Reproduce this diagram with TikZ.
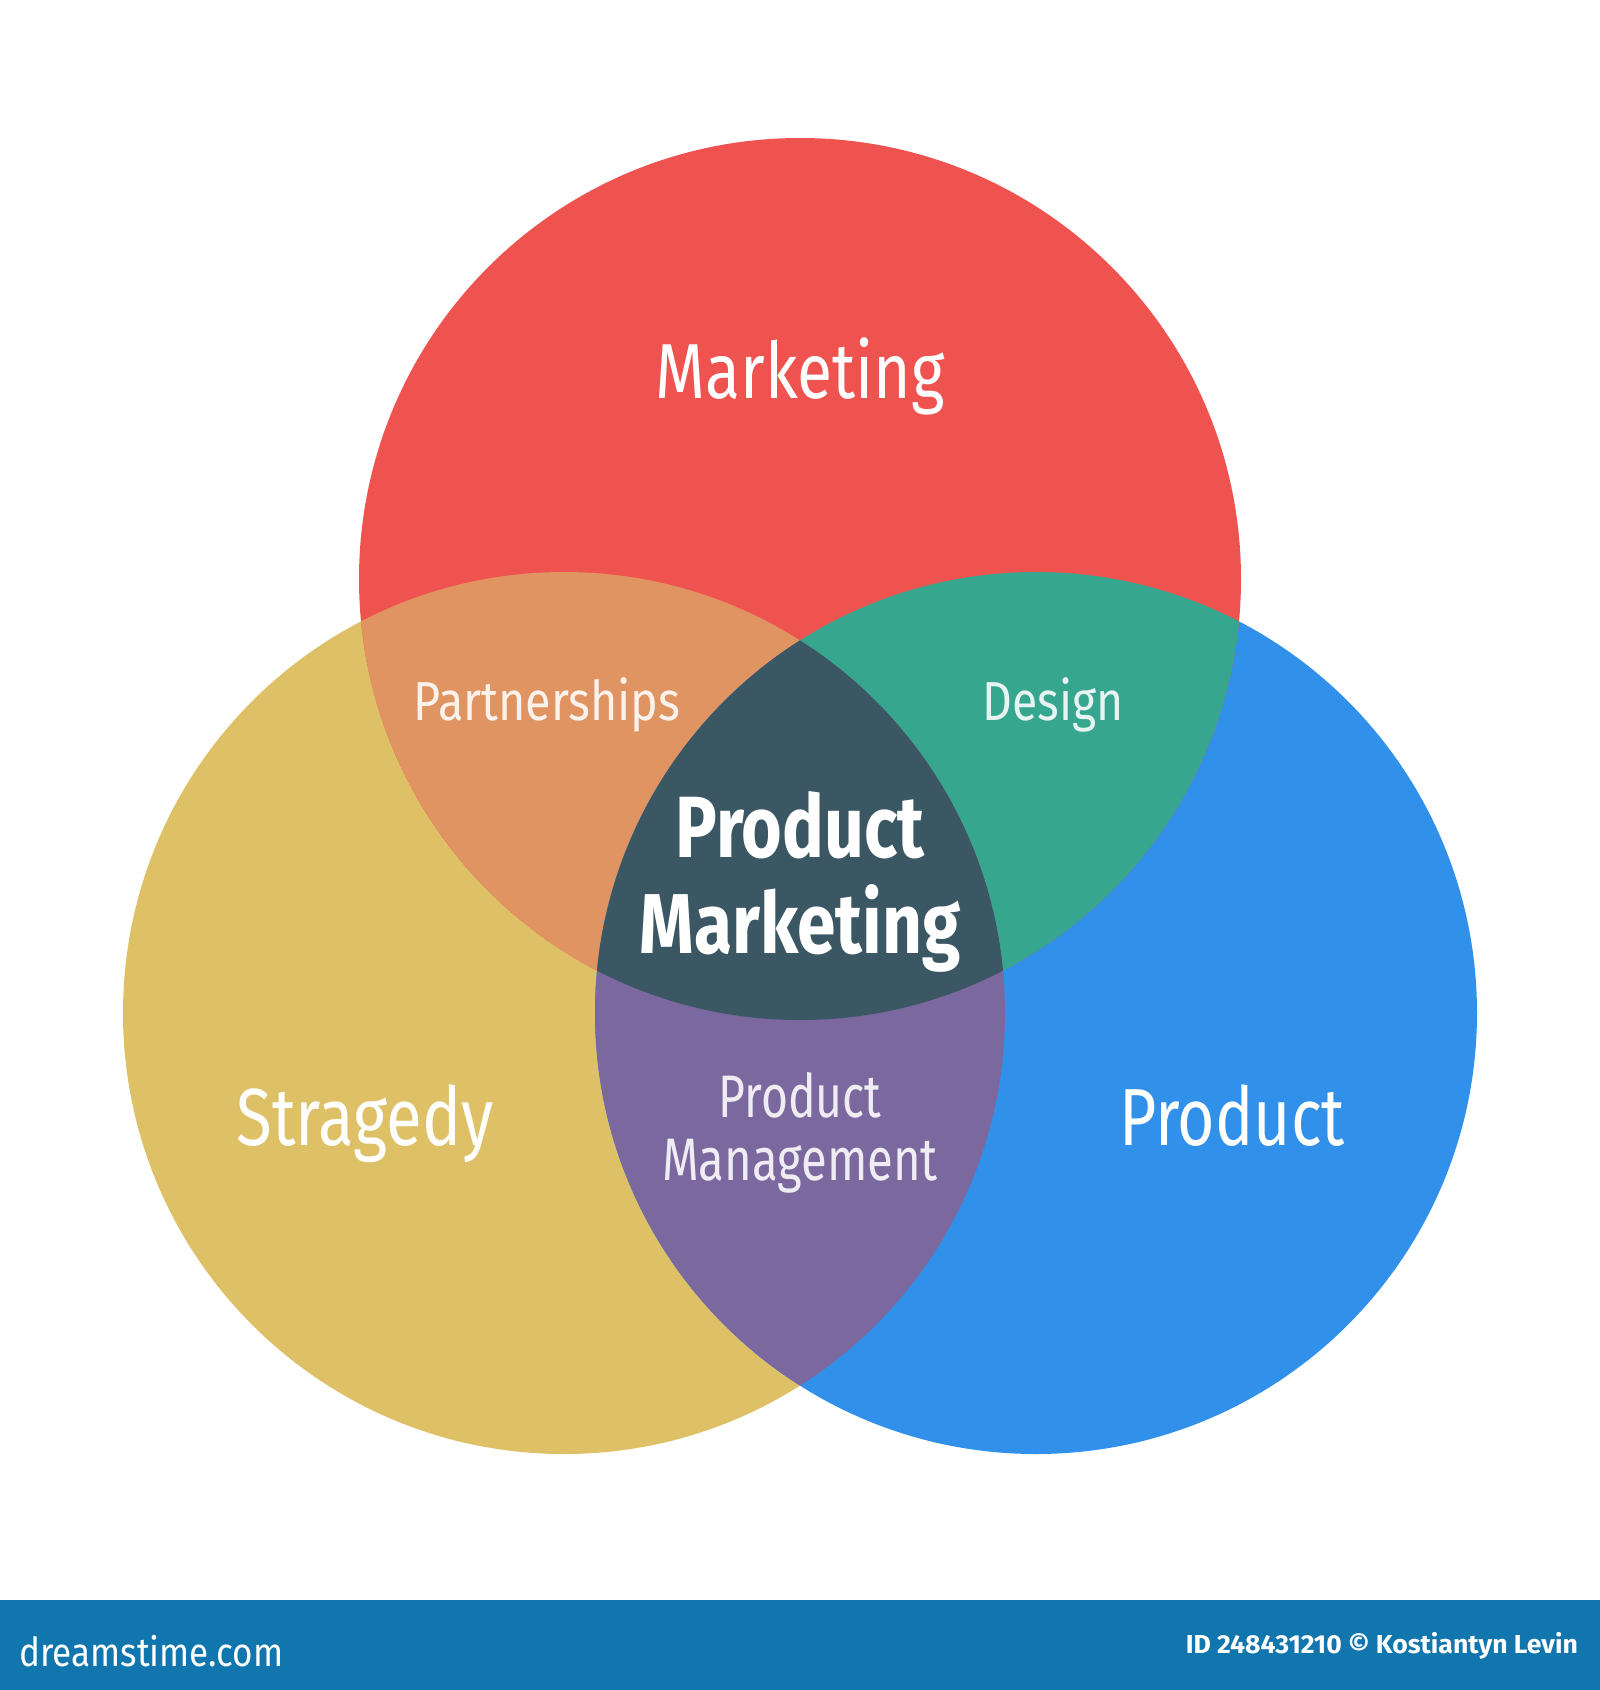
\documentclass[tikz,border=0pt]{standalone}
\usepackage{fontspec}
\setmainfont{Fira Sans}
\newsavebox\fitbox
\newcommand\fitw[2]{\sbox\fitbox{#2}\pgfmathsetmacro\fitsx{#1/\the\wd\fitbox}\scalebox{\fitsx}[1]{\usebox\fitbox}}
\definecolor{cred}{HTML}{EF5350}
\definecolor{cyel}{HTML}{DEC066}
\definecolor{cblue}{HTML}{3190EA}
\definecolor{corange}{HTML}{E09462}
\definecolor{cteal}{HTML}{37A68F}
\definecolor{cpurple}{HTML}{7B689E}
\definecolor{ccenter}{HTML}{3A5763}
\definecolor{cbar}{HTML}{1176AE}
\tikzset{
  lbl/.style={inner sep=0pt, anchor=base, text=white},
}
\begin{document}
\begin{tikzpicture}[x=1pt,y=-1pt]
\fill[white] (0,0) rectangle (1600,1690);
\useasboundingbox (0,0) rectangle (1600,1690);
\coordinate (R) at (800,579);
\coordinate (Y) at (564,1013);
\coordinate (B) at (1036,1013);
\def\rad{441pt}
% base circles
\fill[cyel] (Y) circle[radius=\rad];
\fill[cblue] (B) circle[radius=\rad];
\fill[cred] (R) circle[radius=\rad];
% pairwise overlaps
\begin{scope}
  \clip (R) circle[radius=\rad];
  \fill[corange] (Y) circle[radius=\rad];
  \fill[cteal] (B) circle[radius=\rad];
\end{scope}
\begin{scope}
  \clip (Y) circle[radius=\rad];
  \fill[cpurple] (B) circle[radius=\rad];
\end{scope}
\begin{scope}
  \clip (R) circle[radius=\rad];
  \clip (Y) circle[radius=\rad];
  \fill[ccenter] (B) circle[radius=\rad];
\end{scope}
% labels
\node[lbl] (mkt) at (800,398) {\fitw{289}{\fontsize{78}{80}\selectfont Marketing}};
\node[lbl, text=white!88!corange] (part) at (547,720) {\fitw{267}{\fontsize{55}{57}\selectfont Partnerships}};
\node[lbl, text=white!88!cteal] (des) at (1053,720) {\fitw{141}{\fontsize{55}{57}\selectfont Design}};
\node[lbl] (pm1) at (800,857) {\fitw{249}{\fontsize{87}{89}\selectfont\bfseries Product}};
\node[lbl] (pm2) at (800,953) {\fitw{321}{\fontsize{85}{87}\selectfont\bfseries Marketing}};
\node[lbl] (str) at (365,1145) {\fitw{257}{\fontsize{81}{83}\selectfont Stragedy}};
\node[lbl] (prod) at (1232,1145) {\fitw{226}{\fontsize{81}{83}\selectfont Product}};
\node[lbl, text=white!88!cpurple] (mg1) at (800,1117) {\fitw{163}{\fontsize{60}{62}\selectfont Product}};
\node[lbl, text=white!88!cpurple] (mg2) at (800,1180) {\fitw{276}{\fontsize{60}{62}\selectfont Management}};
% bottom bar
\fill[cbar] (0,1600) rectangle (1600,1690);
\node[inner sep=0pt, anchor=base west, text=white] (brand) at (19,1666) {\fitw{264}{\fontsize{40}{42}\selectfont dreamstime.com}};
\node[inner sep=0pt, anchor=base east, text=white] (credit) at (1578,1653) {\fitw{392}{\fontsize{26}{28}\selectfont\bfseries ID 248431210 © Kostiantyn Levin}};
\end{tikzpicture}
\end{document}
